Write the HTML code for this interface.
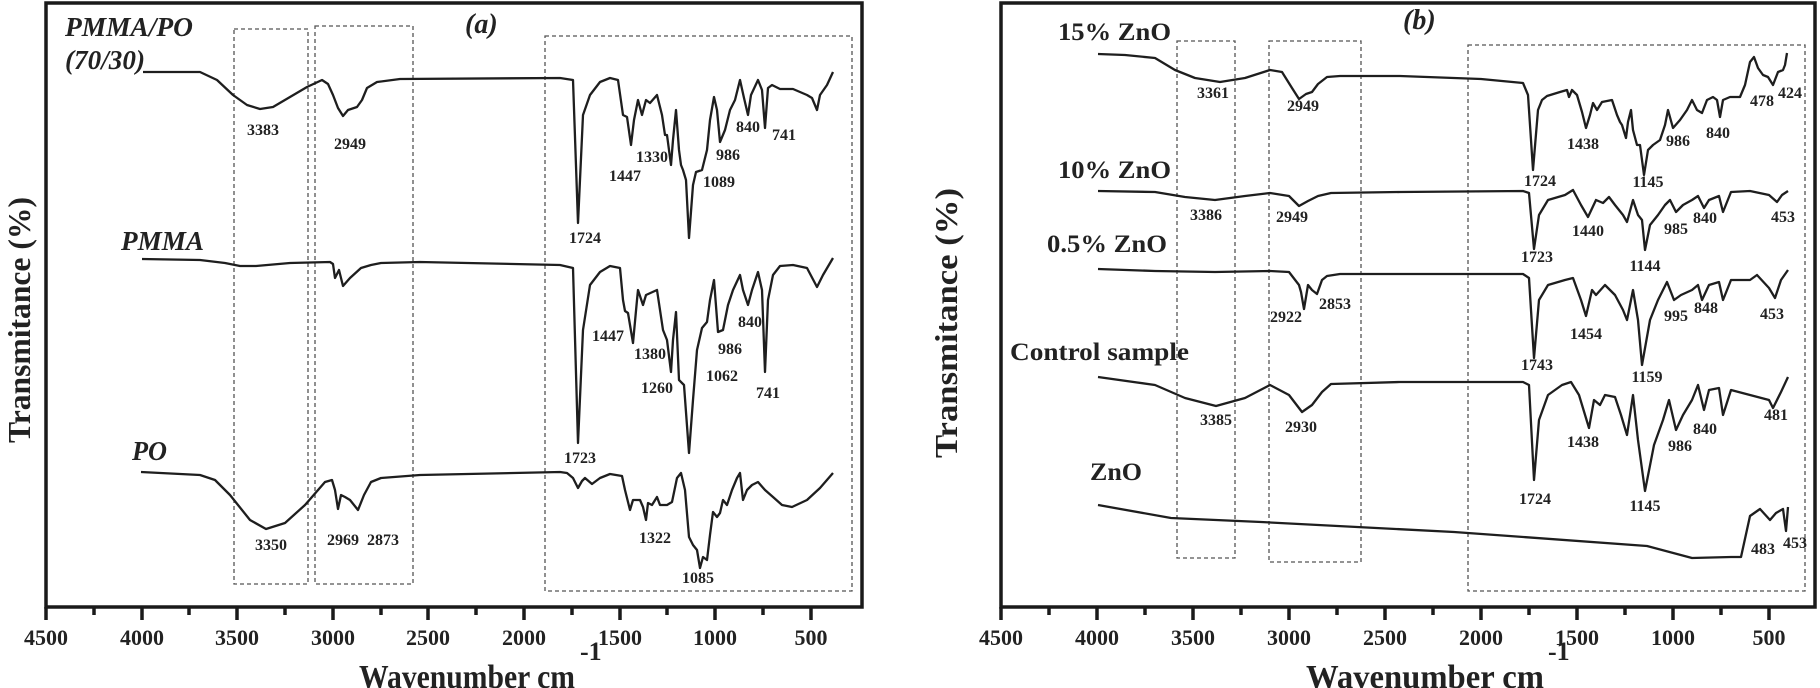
<!DOCTYPE html>
<html><head><meta charset="utf-8"><style>
html,body{margin:0;padding:0;background:#fff;}
svg{display:block;}
text{font-family:"Liberation Serif",serif;font-weight:bold;fill:#222;}
.c{fill:none;stroke:#1e1e1e;stroke-width:2.3;stroke-linejoin:round;}
.d{fill:none;stroke:#555;stroke-width:1.3;stroke-dasharray:4 3;}
.ax{fill:none;stroke:#1a1a1a;stroke-width:3.5;}
.pk{font-size:16px;}
.tk{font-size:22px;}
</style></head><body>
<svg width="1820" height="688" viewBox="0 0 1820 688" xmlns="http://www.w3.org/2000/svg">
<!-- Panel a -->
<rect class="ax" x="46" y="3" width="816" height="604"/>
<g stroke="#1a1a1a" stroke-width="3.5">
<path d="M46 607V620M142 607V620M237 607V620M333 607V620M428 607V620M524 607V620M620 607V620M715 607V620M811 607V620M94 607V615M189 607V615M285 607V615M381 607V615M476 607V615M572 607V615M667 607V615M763 607V615"/>
<path d="M1001 607V620M1097 607V620M1193 607V620M1289 607V620M1385 607V620M1481 607V620M1577 607V620M1673 607V620M1769 607V620M1049 607V615M1145 607V615M1241 607V615M1337 607V615M1433 607V615M1529 607V615M1625 607V615M1721 607V615"/>
</g>
<g class="tk" text-anchor="middle">
<text x="46" y="645">4500</text><text x="142" y="645">4000</text><text x="237" y="645">3500</text><text x="333" y="645">3000</text><text x="428" y="645">2500</text><text x="524" y="645">2000</text><text x="620" y="645">1500</text><text x="715" y="645">1000</text><text x="811" y="645">500</text>
<text x="1001" y="645">4500</text><text x="1097" y="645">4000</text><text x="1193" y="645">3500</text><text x="1289" y="645">3000</text><text x="1385" y="645">2500</text><text x="1481" y="645">2000</text><text x="1577" y="645">1500</text><text x="1673" y="645">1000</text><text x="1769" y="645">500</text>
</g>
<text x="359" y="688" font-size="34" textLength="216" lengthAdjust="spacingAndGlyphs">Wavenumber cm</text>
<text x="580" y="660" font-size="26">-1</text>
<text x="1306" y="688" font-size="34" textLength="238" lengthAdjust="spacingAndGlyphs">Wavenumber cm</text>
<text x="1548" y="660" font-size="26">-1</text>
<text transform="translate(30,443) rotate(-90)" font-size="32" textLength="246" lengthAdjust="spacingAndGlyphs">Transmitance (%)</text>
<text transform="translate(957,458) rotate(-90)" font-size="32" textLength="270" lengthAdjust="spacingAndGlyphs">Transmitance (%)</text>

<text x="465" y="33" font-size="28" font-style="italic">(a)</text>
<text x="1403" y="29" font-size="28" font-style="italic">(b)</text>

<rect class="d" x="234" y="29" width="74" height="555"/>
<rect class="d" x="315" y="26" width="98" height="558"/>
<rect class="d" x="545" y="36" width="307" height="555"/>
<rect class="d" x="1177" y="41" width="58" height="517"/>
<rect class="d" x="1269" y="41" width="92" height="521"/>
<rect class="d" x="1468" y="45" width="337" height="546"/>

<g font-style="italic" font-size="27">
<text x="65" y="36" textLength="128" lengthAdjust="spacingAndGlyphs">PMMA/PO</text>
<text x="65" y="69" textLength="80" lengthAdjust="spacingAndGlyphs">(70/30)</text>
<text x="121" y="250" textLength="83" lengthAdjust="spacingAndGlyphs">PMMA</text>
<text x="132" y="460" textLength="35" lengthAdjust="spacingAndGlyphs">PO</text>
</g>
<g font-size="25">
<text x="1058" y="40" textLength="113" lengthAdjust="spacingAndGlyphs">15% ZnO</text>
<text x="1058" y="178" textLength="113" lengthAdjust="spacingAndGlyphs">10% ZnO</text>
<text x="1047" y="252" textLength="120" lengthAdjust="spacingAndGlyphs">0.5% ZnO</text>
<text x="1010" y="360" textLength="179" lengthAdjust="spacingAndGlyphs">Control sample</text>
<text x="1090" y="480" textLength="52" lengthAdjust="spacingAndGlyphs">ZnO</text>
</g>

<!-- panel a curves -->
<polyline class="c" points="143,72 200,72 217,80 233,95 247,105 260,109 273,107 290,97 307,87 322,80 328,84 333,95 338,108 343,116 348,110 357,107 362,100 367,88 377,82 400,79 560,78 573,80 578,223 583,115 590,95 600,82 610,78 618,80 623,115 627,117 631,145 634,120 638,100 642,115 646,100 650,103 657,95 662,115 665,135 667,135 671,165 673,140 676,110 679,150 681,165 683,170 686,180 689,238 693,185 696,172 702,170 707,150 710,120 714,97 717,110 720,142 725,130 730,110 735,100 740,80 744,98 748,115 751,95 758,80 762,90 765,128 768,88 772,85 780,89 793,89 807,95 812,98 817,110 820,95 827,85 833,72"/>
<polyline class="c" points="142,259 200,260 225,263 240,266 256,266 290,263 330,262 333,264 335,278 339,270 343,286 350,278 361,268 371,265 381,263 420,262 560,265 573,268 578,443 583,330 590,285 600,272 610,266 620,268 623,300 625,311 628,313 633,343 637,300 638,290 643,305 646,295 657,290 663,330 667,340 671,372 673,340 676,312 679,380 684,385 689,453 693,400 697,350 702,328 707,322 710,300 714,280 718,332 723,330 728,305 733,290 740,275 743,290 748,305 752,290 758,272 762,290 765,372 768,300 773,275 780,266 793,265 807,268 817,287 823,275 833,258"/>
<polyline class="c" points="141,472 200,475 215,480 230,495 250,520 266,529 285,523 305,505 325,482 332,480 335,490 338,509 341,495 345,497 350,500 358,510 364,495 371,482 381,478 420,475 560,472 567,473 573,478 578,488 582,481 585,478 592,484 600,478 610,474 622,476 625,490 630,510 633,500 640,500 643,507 646,520 648,503 652,505 657,497 660,505 667,505 672,502 677,478 681,473 685,490 689,537 693,545 697,550 700,568 703,557 707,560 710,535 713,512 717,517 720,513 723,500 727,505 732,490 737,478 740,473 743,500 747,490 752,485 758,482 765,490 773,497 782,505 792,507 807,500 820,488 833,473"/>

<!-- panel b curves -->
<polyline class="c" points="1098,54 1125,55 1155,58 1175,70 1195,78 1220,82 1245,78 1270,70 1282,72 1292,88 1299,99 1306,94 1312,92 1318,84 1327,77 1340,76 1400,76 1481,79 1523,83 1528,95 1533,170 1538,110 1542,100 1547,96 1560,92 1567,90 1569,97 1572,90 1577,95 1582,112 1586,128 1590,115 1593,103 1597,110 1602,102 1612,100 1617,115 1620,122 1622,125 1626,138 1628,122 1631,110 1633,130 1637,145 1640,145 1644,175 1648,150 1653,145 1660,140 1665,125 1668,110 1673,128 1680,120 1687,110 1692,100 1697,110 1702,113 1707,100 1713,97 1717,100 1720,117 1723,100 1730,97 1740,97 1745,85 1750,62 1754,57 1758,68 1763,75 1768,77 1773,85 1778,72 1783,70 1785,65 1787,53"/>
<polyline class="c" points="1098,191 1155,192 1185,197 1215,200 1245,196 1270,193 1289,196 1299,206 1308,201 1318,196 1331,193 1400,192 1523,191 1529,193 1534,249 1539,215 1548,200 1565,195 1573,190 1581,205 1588,217 1596,200 1603,203 1609,197 1615,205 1623,215 1627,222 1633,200 1638,215 1642,220 1645,250 1650,225 1658,215 1665,205 1670,200 1676,212 1683,205 1692,200 1698,196 1704,208 1709,200 1719,196 1723,212 1731,192 1750,191 1769,195 1777,202 1782,195 1788,191"/>
<polyline class="c" points="1098,269 1155,271 1215,272 1270,271 1289,272 1299,285 1301,292 1304,309 1308,285 1312,290 1317,294 1322,280 1327,276 1340,274 1523,274 1529,278 1534,358 1539,300 1548,285 1565,280 1573,278 1581,300 1586,316 1592,290 1596,295 1605,285 1615,295 1623,310 1627,320 1633,290 1638,320 1642,365 1650,320 1658,300 1667,282 1674,300 1681,295 1692,290 1698,285 1702,300 1709,285 1719,282 1723,300 1731,280 1750,280 1757,275 1769,288 1775,298 1781,280 1788,270"/>
<polyline class="c" points="1098,377 1155,385 1185,398 1216,406 1245,398 1270,385 1289,395 1302,412 1312,405 1322,392 1331,384 1400,382 1523,382 1529,385 1534,480 1539,420 1548,395 1562,385 1571,382 1579,395 1589,428 1594,400 1600,405 1605,395 1615,397 1621,415 1627,435 1633,395 1638,440 1645,491 1654,445 1663,420 1669,400 1676,430 1683,415 1692,400 1698,385 1704,410 1709,390 1719,388 1723,415 1731,390 1750,395 1769,400 1773,408 1781,392 1788,377"/>
<polyline class="c" points="1098,505 1171,518 1261,522 1454,532 1647,546 1692,558 1731,557 1741,557 1750,516 1760,509 1770,520 1776,513 1783,509 1786,531 1788,507"/>

<!-- peak labels -->
<g class="pk" text-anchor="middle">
<text x="263" y="135">3383</text><text x="350" y="149">2949</text>
<text x="585" y="243">1724</text><text x="625" y="181">1447</text><text x="652" y="162">1330</text><text x="719" y="187">1089</text><text x="728" y="160">986</text><text x="748" y="132">840</text><text x="784" y="140">741</text>
<text x="580" y="463">1723</text><text x="608" y="341">1447</text><text x="650" y="359">1380</text><text x="657" y="393">1260</text><text x="722" y="381">1062</text><text x="730" y="354">986</text><text x="750" y="327">840</text><text x="768" y="398">741</text>
<text x="271" y="550">3350</text><text x="343" y="545">2969</text><text x="383" y="545">2873</text><text x="655" y="543">1322</text><text x="698" y="583">1085</text>

<text x="1213" y="98">3361</text><text x="1303" y="111">2949</text><text x="1540" y="186">1724</text><text x="1583" y="149">1438</text><text x="1648" y="187">1145</text><text x="1678" y="146">986</text><text x="1718" y="138">840</text><text x="1762" y="106">478</text><text x="1790" y="98">424</text>
<text x="1206" y="220">3386</text><text x="1292" y="222">2949</text><text x="1537" y="262">1723</text><text x="1588" y="236">1440</text><text x="1645" y="271">1144</text><text x="1676" y="234">985</text><text x="1705" y="223">840</text><text x="1783" y="222">453</text>
<text x="1286" y="322">2922</text><text x="1335" y="309">2853</text><text x="1537" y="370">1743</text><text x="1586" y="339">1454</text><text x="1647" y="382">1159</text><text x="1676" y="321">995</text><text x="1706" y="313">848</text><text x="1772" y="319">453</text>
<text x="1216" y="425">3385</text><text x="1301" y="432">2930</text><text x="1535" y="504">1724</text><text x="1583" y="447">1438</text><text x="1645" y="511">1145</text><text x="1680" y="451">986</text><text x="1705" y="434">840</text><text x="1776" y="420">481</text>
<text x="1763" y="554">483</text><text x="1795" y="548">453</text>
</g>
<rect class="ax" x="1001" y="3" width="814" height="604"/>
</svg>
</body></html>
